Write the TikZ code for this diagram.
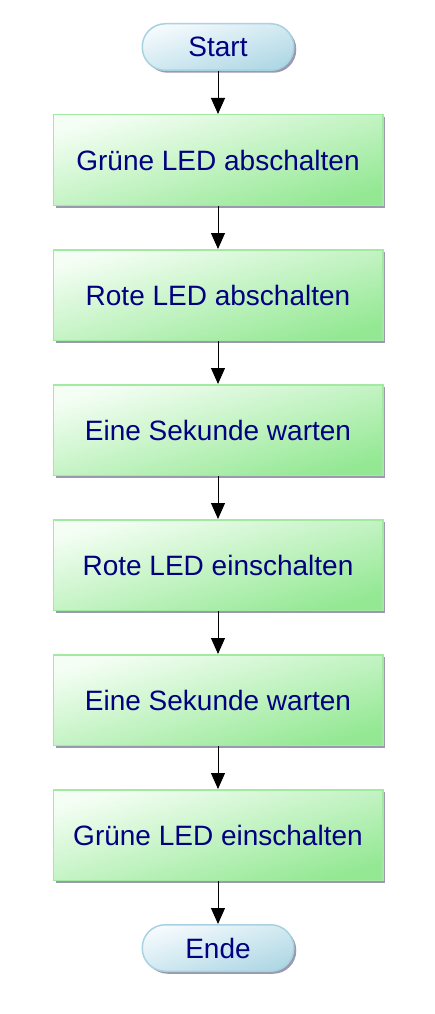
\documentclass[tikz,border=0pt]{standalone}
\usepackage{fontspec}
\setmainfont{Liberation Sans}
\usetikzlibrary{positioning,arrows.meta,shadows}
\definecolor{textblue}{HTML}{000080}
\definecolor{greenlight}{HTML}{F4FEF4}
\definecolor{greendark}{HTML}{94E894}
\definecolor{greenline}{HTML}{A2EAA2}
\definecolor{bluelight}{HTML}{F4FAFD}
\definecolor{bluedark}{HTML}{B0D8E5}
\definecolor{blueline}{HTML}{A8D2E2}
\definecolor{shadowgray}{HTML}{9A9AAE}

\begin{document}
\begin{tikzpicture}[x=1pt, y=1pt,
        proc/.style={draw=greenline, line width=1.5pt, top color=greenlight, bottom color=greendark,
            shading angle=16, minimum width=329.5pt, minimum height=90.5pt,
            text=textblue, font=\fontsize{28pt}{32pt}\selectfont,
            drop shadow={shadow xshift=2.5pt, shadow yshift=-2.5pt, fill=shadowgray, opacity=1}},
        term/.style={draw=blueline, line width=1.5pt, top color=bluelight, bottom color=bluedark,
            shading angle=17, rounded corners=23pt, minimum width=151.5pt, minimum height=46.5pt,
            text=textblue, font=\fontsize{28pt}{32pt}\selectfont,
            drop shadow={shadow xshift=2.5pt, shadow yshift=-2.5pt, fill=shadowgray, opacity=1}},
        flow/.style={black, line width=1pt, -{Triangle[width=14pt, length=16pt]}},
        node distance=43pt]
    \useasboundingbox (0,0) rectangle (435,-1014);

    % Ablauf
    \node[term] (s0) at (218,-47) {Start};
    \foreach \txt [count=\i, remember=\i as \j (initially 0)] in
        {Grüne LED abschalten, Rote LED abschalten, Eine Sekunde warten,
         Rote LED einschalten, Eine Sekunde warten, Grüne LED einschalten} {
        \node[proc, below=of s\j] (s\i) {\txt};
    }
    \node[term, below=of s6] (ende) {Ende};

    % Pfeile
    \foreach \i [remember=\i as \j (initially 0)] in {1,...,6} {
        \draw[flow] (s\j) -- (s\i);
    }
    \draw[flow] (s6) -- (ende);
\end{tikzpicture}
\end{document}
